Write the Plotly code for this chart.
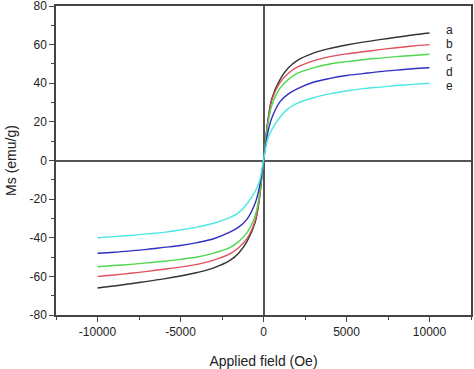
import plotly.graph_objects as go

field = [-10000, -9000, -8000, -7000, -6000, -5000, -4000, -3000, -2000, -1500, -1000, -500, -250, 0,
         250, 500, 1000, 1500, 2000, 3000, 4000, 5000, 6000, 7000, 8000, 9000, 10000]

ms_a = [-66, -65, -63.8, -62.6, -61.3, -59.8, -58, -55.6, -51.6, -48, -42, -32, -20, 0,
        20, 32, 42, 48, 51.6, 55.6, 58, 59.8, 61.3, 62.6, 63.8, 65, 66]
ms_b = [-60, -59.3, -58.4, -57.4, -56.3, -55.2, -53.8, -51.6, -48.2, -45.2, -40.5, -31, -19, 0,
        19, 31, 40.5, 45.2, 48.2, 51.6, 53.8, 55.2, 56.3, 57.4, 58.4, 59.3, 60]
ms_c = [-55, -54.4, -53.8, -53, -52.2, -51.2, -50, -48, -45, -42, -37.5, -28.5, -18, 0,
        18, 28.5, 37.5, 42, 45, 48, 50, 51.2, 52.2, 53, 53.8, 54.4, 55]
ms_d = [-48, -47.5, -46.8, -46, -45, -44, -42.5, -40.5, -37, -34.5, -30.5, -22, -14, 0,
        14, 22, 30.5, 34.5, 37, 40.5, 42.5, 44, 45, 46, 46.8, 47.5, 48]
ms_e = [-40, -39.4, -38.8, -38, -37.2, -36, -34.5, -32.5, -29.5, -27, -22.5, -16, -11, 0,
        11, 16, 22.5, 27, 29.5, 32.5, 34.5, 36, 37.2, 38, 38.8, 39.4, 40]

labels = ["a", "b", "c", "d", "e"]
label_y = [67.5, 60.5, 53.5, 46, 38.5]
label_x = 10900
colors = ["#333333", "#e0505e", "#4fd84f", "#3030c0", "#4de6e6"]
series = [ms_a, ms_b, ms_c, ms_d, ms_e]

fig = go.Figure()
for name, ys, col in zip(labels, series, colors):
    fig.add_trace(go.Scatter(x=field, y=ys, mode="lines", name=name,
                             line=dict(color=col, width=1.4, shape="spline", smoothing=0.9),
                             showlegend=False))

for lab, ly in zip(labels, label_y):
    fig.add_annotation(x=label_x, y=ly, text=lab, showarrow=False,
                       xanchor="left", yanchor="middle", height=12,
                       font=dict(size=12, color="#222222"))

axis_common = dict(showline=True, linecolor="#444444", linewidth=1.5, mirror=True,
                   ticks="outside", ticklen=5, tickwidth=1.2, tickcolor="#444444",
                   showgrid=False, zeroline=True, zerolinecolor="#555555", zerolinewidth=1.5,
                   automargin=False, ticklabeloverflow="allow",
                   tickfont=dict(size=12, color="#222222"))

fig.update_xaxes(range=[-12500, 12500], tickvals=[-10000, -5000, 0, 5000, 10000],
                 ticktext=["-10000", "-5000", "0", "5000", "10000"],
                 minor=dict(dtick=2500, tick0=0, ticks="outside", ticklen=3, tickcolor="#444444"),
                 title=dict(text="Applied field (Oe)", font=dict(size=14, color="#222222"), standoff=18),
                 **axis_common)
fig.update_yaxes(range=[-80, 80], tickvals=[-80, -60, -40, -20, 0, 20, 40, 60, 80],
                 ticktext=["-80", "-60", "-40", "-20", "0", "20", "40", "60", "80"],
                 minor=dict(dtick=10, tick0=0, ticks="outside", ticklen=3, tickcolor="#444444"),
                 title=dict(text="Ms (emu/g)", font=dict(size=14, color="#222222"), standoff=10),
                 **axis_common)

fig.update_layout(width=474, height=369,
                  margin=dict(l=56, r=3, t=6, b=54),
                  paper_bgcolor="white", plot_bgcolor="white",
                  font=dict(family="Liberation Sans, Arial, sans-serif"))

fig.write_html("out.html", config={"displayModeBar": False},
               post_script="document.body.style.margin='0px';document.body.style.overflow='hidden';")
